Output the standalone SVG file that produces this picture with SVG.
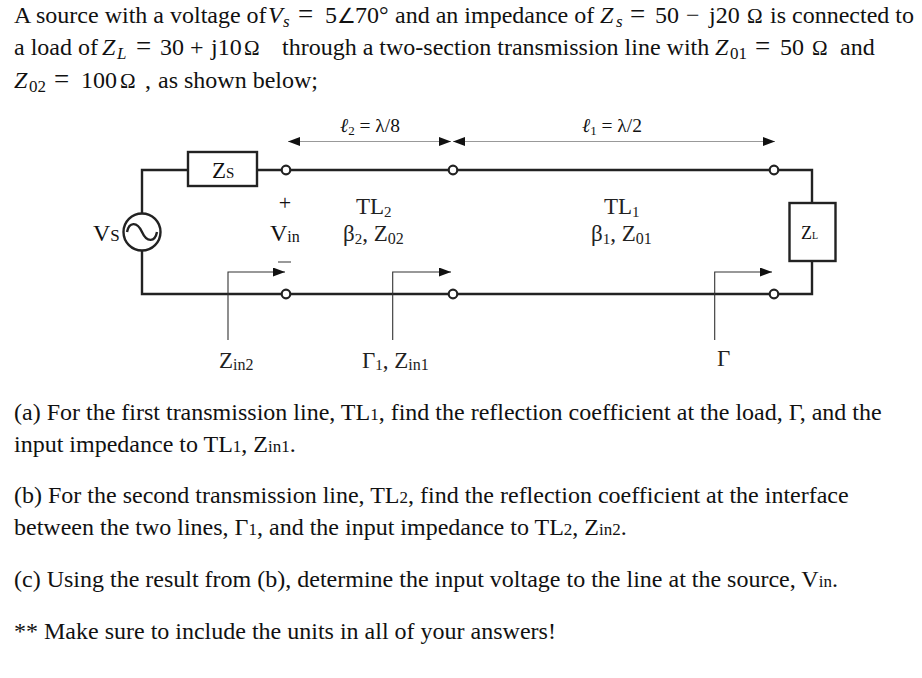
<svg xmlns="http://www.w3.org/2000/svg" width="922" height="678" viewBox="0 0 922 678">
<style>
text{font-family:"Liberation Serif","Times New Roman",serif;fill:#111}
.p{font-size:24px}
.i{font-style:italic}
.d{font-size:23px;fill:#222}
.w{fill:none;stroke:#222;stroke-width:2.4}
.t{fill:none;stroke:#333;stroke-width:1.1}
.g{fill:none;stroke:#999;stroke-width:1}
.c{fill:#fff;stroke:#222;stroke-width:2.2}
</style>
<defs>
<marker id="a" markerUnits="userSpaceOnUse" markerWidth="13" markerHeight="9" refX="12" refY="4.5" orient="auto-start-reverse"><path d="M0 0L12 4.5L0 9Z" fill="#111"/></marker>
</defs>
<rect width="922" height="678" fill="#fff"/>
<g id="statement">
<text class="p" y="23"><tspan x="14">A source with a voltage of</tspan><tspan class="i" x="268">V</tspan><tspan class="i" font-size="17" x="283" dy="4">s</tspan><tspan x="298" dy="-4" font-size="27">=</tspan><tspan x="325">5</tspan><tspan x="337" font-size="21">∠</tspan><tspan x="355">70°</tspan><tspan x="395">and an impedance of</tspan><tspan class="i" x="600">Z</tspan><tspan class="i" font-size="17" x="616" dy="4">s</tspan><tspan x="630" dy="-4" font-size="27">=</tspan><tspan x="655">50</tspan><tspan x="686">−</tspan><tspan x="709">j20</tspan><tspan x="747" font-size="21">Ω</tspan><tspan x="770">is connected to</tspan></text>
<text class="p" y="55"><tspan x="14">a load of</tspan><tspan class="i" x="102">Z</tspan><tspan class="i" font-size="17" x="117" dy="4">L</tspan><tspan x="136" dy="-4" font-size="27">=</tspan><tspan x="160">30</tspan><tspan x="190">+</tspan><tspan x="211">j10</tspan><tspan x="244" font-size="21">Ω</tspan><tspan x="282">through a two-section transmission line with</tspan><tspan class="i" x="715">Z</tspan><tspan font-size="17" x="730" dy="4">01</tspan><tspan x="755" dy="-4" font-size="27">=</tspan><tspan x="780">50</tspan><tspan x="812" font-size="21">Ω</tspan><tspan x="840">and</tspan></text>
<text class="p" y="88"><tspan class="i" x="14">Z</tspan><tspan font-size="17" x="29" dy="4">02</tspan><tspan x="54" dy="-4" font-size="27">=</tspan><tspan x="81">100</tspan><tspan x="120" font-size="21">Ω</tspan><tspan x="145">,</tspan><tspan x="158">as shown below;</tspan></text>
</g>
<g id="connectors">
<path class="w" d="M188 170H142V213M142 251V294H812V261M812 203V170H257"/>
<path class="g" d="M288 141.500H451" marker-start="url(#a)" marker-end="url(#a)"/>
<path class="g" d="M453 141.500H775" marker-start="url(#a)" marker-end="url(#a)"/>
<path class="t" d="M228 340V272H285" marker-end="url(#a)"/>
<path class="t" d="M392.700 340V272H451" marker-end="url(#a)"/>
<path class="t" d="M714.700 340V272H772" marker-end="url(#a)"/>
</g>
<g id="source"><circle class="w" cx="142" cy="232" r="18.500"/><path class="w" d="M127 232C129 222 137 221 142 232S155 242 157 232"/><text x="93" y="241" font-size="24" fill="#222">V<tspan font-size="17">S</tspan></text></g>
<g id="zs"><rect class="w" x="188" y="152" width="69" height="34"/><text x="212" y="178" font-size="23" fill="#222">Z<tspan font-size="15">S</tspan></text></g>
<g id="zl"><rect class="w" x="789.500" y="203" width="46" height="58"/><text x="801" y="239" font-size="18" fill="#222">Z<tspan font-size="10">L</tspan></text></g>
<g id="terminals">
<circle class="c" cx="286" cy="170" r="4.300"/><circle class="c" cx="453" cy="170" r="4.300"/><circle class="c" cx="774" cy="170" r="4.300"/>
<circle class="c" cx="286" cy="294" r="4.300"/><circle class="c" cx="453" cy="294" r="4.300"/><circle class="c" cx="774" cy="294" r="4.300"/>
</g>
<g id="labels">
<text x="340" y="132" font-size="19.500" fill="#222"><tspan class="i">ℓ</tspan><tspan font-size="13" dy="3">2</tspan><tspan dy="-3"> = λ/8</tspan></text>
<text x="582" y="132" font-size="19.500" fill="#222"><tspan class="i">ℓ</tspan><tspan font-size="13" dy="3">1</tspan><tspan dy="-3"> = λ/2</tspan></text>
<text x="285" y="210" font-size="22" text-anchor="middle" fill="#222">+</text>
<text x="270" y="241" font-size="24" fill="#222">V<tspan font-size="16" dy="1">in</tspan></text>
<path d="M278 262H291" stroke="#555" stroke-width="1.200"/>
<text x="356" y="214" class="d">TL<tspan font-size="15" dy="3">2</tspan></text>
<text x="343" y="241" class="d">β<tspan font-size="15" dy="3">2</tspan><tspan dy="-3">, Z</tspan><tspan font-size="16" dy="3">02</tspan></text>
<text x="604" y="214" class="d">TL<tspan font-size="15" dy="3">1</tspan></text>
<text x="591" y="241" class="d">β<tspan font-size="15" dy="3">1</tspan><tspan dy="-3">, Z</tspan><tspan font-size="16" dy="3">01</tspan></text>
<text x="219" y="368" class="d">Z<tspan font-size="16" dy="2">in2</tspan></text>
<text x="362" y="368" class="d">Γ<tspan font-size="15" dy="2">1</tspan><tspan dy="-2">, Z</tspan><tspan font-size="16" dy="2">in1</tspan></text>
<text x="717" y="366" class="d">Γ</text>
</g>
<g id="questions">
<text class="p" x="14" y="420">(a) For the first transmission line, TL<tspan font-size="17">1</tspan>, find the reflection coefficient at the load, Γ, and the</text>
<text class="p" x="14" y="452">input impedance to TL<tspan font-size="17">1</tspan>, Z<tspan font-size="17">in1</tspan>.</text>
<text class="p" x="14" y="503">(b) For the second transmission line, TL<tspan font-size="17">2</tspan>, find the reflection coefficient at the interface</text>
<text class="p" x="14" y="535">between the two lines, Γ<tspan font-size="17">1</tspan>, and the input impedance to TL<tspan font-size="17">2</tspan>, Z<tspan font-size="17">in2</tspan>.</text>
<text class="p" x="14" y="587">(c) Using the result from (b), determine the input voltage to the line at the source, V<tspan font-size="17">in</tspan>.</text>
<text class="p" x="14" y="639">** Make sure to include the units in all of your answers!</text>
</g>
</svg>
